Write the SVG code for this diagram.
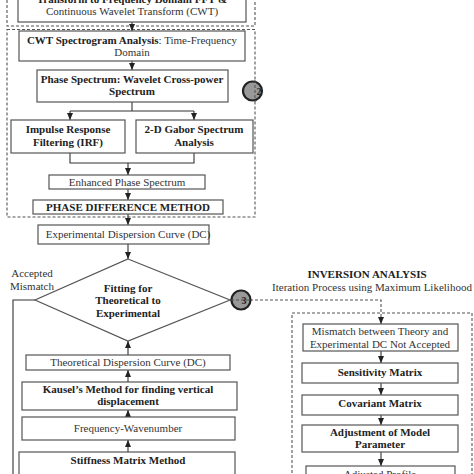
<svg xmlns="http://www.w3.org/2000/svg" width="474" height="474" viewBox="0 0 474 474">
<defs>
<marker id="arr" markerUnits="userSpaceOnUse" markerWidth="8" markerHeight="8" viewBox="0 0 8 8" refX="7" refY="4" orient="auto">
<path d="M0,1 L7,4 L0,7 z" fill="#222"/>
</marker>
<style>
.box{fill:#fff;stroke:#555;stroke-width:1.2}
.dash{fill:none;stroke:#555;stroke-width:1.1;stroke-dasharray:3,2}
.ln{fill:none;stroke:#333;stroke-width:1.1}
.t{font-family:"Liberation Serif","Times New Roman",serif;font-size:11px;fill:#333;text-anchor:middle}
.b{font-weight:bold;fill:#222}
.circ{fill:#999;stroke:#222;stroke-width:2.2}
</style>
</defs>
<rect width="474" height="474" fill="#fff"/>

<g id="regions">
<rect class="dash" x="7" y="-10" width="248" height="36"/>
<rect class="dash" x="7" y="29.5" width="248" height="187.5"/>
<rect class="dash" x="292" y="313" width="180" height="200"/>
</g>

<g id="connectors">
<line class="ln" x1="132" y1="22" x2="132" y2="31" marker-end="url(#arr)"/>
<line class="ln" x1="132" y1="61" x2="132" y2="70" marker-end="url(#arr)"/>
<polyline class="ln" points="132,102 132,111"/>
<polyline class="ln" points="70,111 194,111"/>
<line class="ln" x1="70" y1="111" x2="70" y2="120" marker-end="url(#arr)"/>
<line class="ln" x1="194" y1="111" x2="194" y2="120" marker-end="url(#arr)"/>
<polyline class="ln" points="70,153 70,163 194,163 194,153"/>
<line class="ln" x1="128" y1="163" x2="128" y2="175" marker-end="url(#arr)"/>
<line class="ln" x1="128" y1="189" x2="128" y2="200" marker-end="url(#arr)"/>
<line class="ln" x1="128" y1="214" x2="128" y2="225" marker-end="url(#arr)"/>
<line class="ln" x1="128" y1="244" x2="128" y2="259" marker-end="url(#arr)"/>
<polyline class="ln" points="35,300 13,300 13,480"/>
<polyline class="dash" points="230,300 381,300 381,318"/>
<line class="ln" x1="381" y1="317" x2="381" y2="324" marker-end="url(#arr)"/>
<line class="ln" x1="128" y1="355" x2="128" y2="341" marker-end="url(#arr)"/>
<line class="ln" x1="128" y1="382" x2="128" y2="370" marker-end="url(#arr)"/>
<line class="ln" x1="128" y1="417" x2="128" y2="410" marker-end="url(#arr)"/>
<line class="ln" x1="128" y1="452" x2="128" y2="440" marker-end="url(#arr)"/>
<line class="ln" x1="381" y1="351" x2="381" y2="363" marker-end="url(#arr)"/>
<line class="ln" x1="381" y1="383" x2="381" y2="395" marker-end="url(#arr)"/>
<line class="ln" x1="381" y1="415" x2="381" y2="425" marker-end="url(#arr)"/>
<line class="ln" x1="381" y1="452" x2="381" y2="466" marker-end="url(#arr)"/>
</g>

<g id="n-transform">
<rect class="box" x="18" y="-20" width="228" height="42"/>
<text class="t b" x="132" y="3">Transform to Frequency Domain FFT &amp;</text>
<text class="t" x="132" y="15">Continuous Wavelet Transform (CWT)</text>
</g>
<g id="n-cwt">
<rect class="box" x="19" y="31" width="226" height="30"/>
<text class="t" x="132" y="44"><tspan class="b">CWT Spectrogram Analysis</tspan>: Time-Frequency</text>
<text class="t" x="132" y="56">Domain</text>
</g>
<g id="n-phase">
<rect class="box" x="37" y="70" width="191" height="32"/>
<text class="t b" x="132" y="83">Phase Spectrum: Wavelet Cross-power</text>
<text class="t b" x="132" y="95">Spectrum</text>
</g>
<g id="c2">
<circle class="circ" cx="252.5" cy="91" r="9.5"/>
<line class="dash" x1="255" y1="80" x2="255" y2="102"/>
<text class="t b" x="259" y="95" style="font-size:10px">2</text>
</g>
<g id="n-irf">
<rect class="box" x="11" y="120" width="114" height="33"/>
<text class="t b" x="68" y="133">Impulse Response</text>
<text class="t b" x="68" y="146">Filtering (IRF)</text>
</g>
<g id="n-gabor">
<rect class="box" x="136" y="120" width="117" height="33"/>
<text class="t b" x="194" y="133">2-D Gabor Spectrum</text>
<text class="t b" x="194" y="146">Analysis</text>
</g>
<g id="n-enh">
<rect class="box" x="49" y="175" width="156" height="14"/>
<text class="t" x="127" y="186">Enhanced Phase Spectrum</text>
</g>
<g id="n-pdm">
<rect class="box" x="33" y="200" width="190" height="14"/>
<text class="t b" x="128" y="211">PHASE DIFFERENCE METHOD</text>
</g>
<g id="n-expdc">
<rect class="box" x="38" y="225" width="171" height="19"/>
<text class="t" x="128" y="238">Experimental Dispersion Curve (DC)</text>
</g>
<g id="n-fit">
<polygon class="box" points="128,259 230,300 128,341 35,300"/>
<text class="t b" x="128" y="292">Fitting for</text>
<text class="t b" x="128" y="304">Theoretical to</text>
<text class="t b" x="128" y="317">Experimental</text>
</g>
<g id="lbl-accepted">
<text class="t" x="32" y="277">Accepted</text>
<text class="t" x="32" y="290">Mismatch</text>
</g>
<g id="c3">
<circle class="circ" cx="241" cy="300" r="9.5"/>
<line class="dash" x1="231" y1="300" x2="251" y2="300"/>
<text class="t b" x="244" y="304" style="font-size:10px">3</text>
</g>
<g id="lbl-inversion">
<text class="t b" x="367" y="278">INVERSION ANALYSIS</text>
<text class="t" x="372" y="291">Iteration Process using Maximum Likelihood</text>
</g>
<g id="n-mismatch">
<rect class="box" x="303" y="324" width="155" height="27"/>
<text class="t" x="380" y="335">Mismatch between Theory and</text>
<text class="t" x="380" y="348">Experimental DC Not Accepted</text>
</g>
<g id="n-sens">
<rect class="box" x="302" y="363" width="156" height="20"/>
<text class="t b" x="380" y="376">Sensitivity Matrix</text>
</g>
<g id="n-cov">
<rect class="box" x="302" y="395" width="156" height="20"/>
<text class="t b" x="380" y="407">Covariant Matrix</text>
</g>
<g id="n-adj">
<rect class="box" x="302" y="425" width="156" height="27"/>
<text class="t b" x="380" y="436">Adjustment of Model</text>
<text class="t b" x="380" y="448">Parameter</text>
</g>
<g id="n-adjprof">
<rect class="box" x="306" y="466" width="149" height="20"/>
<text class="t" x="380" y="478">Adjusted Profile</text>
</g>
<g id="n-theo">
<rect class="box" x="26" y="355" width="204" height="15"/>
<text class="t" x="128" y="366">Theoretical Dispersion Curve (DC)</text>
</g>
<g id="n-kausel">
<rect class="box" x="22" y="382" width="215" height="28"/>
<text class="t b" x="128" y="393">Kausel’s Method for finding vertical</text>
<text class="t b" x="128" y="405">displacement</text>
</g>
<g id="n-freq">
<rect class="box" x="22" y="417" width="213" height="23"/>
<text class="t" x="128" y="432">Frequency-Wavenumber</text>
</g>
<g id="n-stiff">
<rect class="box" x="19" y="452" width="216" height="30"/>
<text class="t b" x="128" y="464">Stiffness Matrix Method</text>
</g>
</svg>
